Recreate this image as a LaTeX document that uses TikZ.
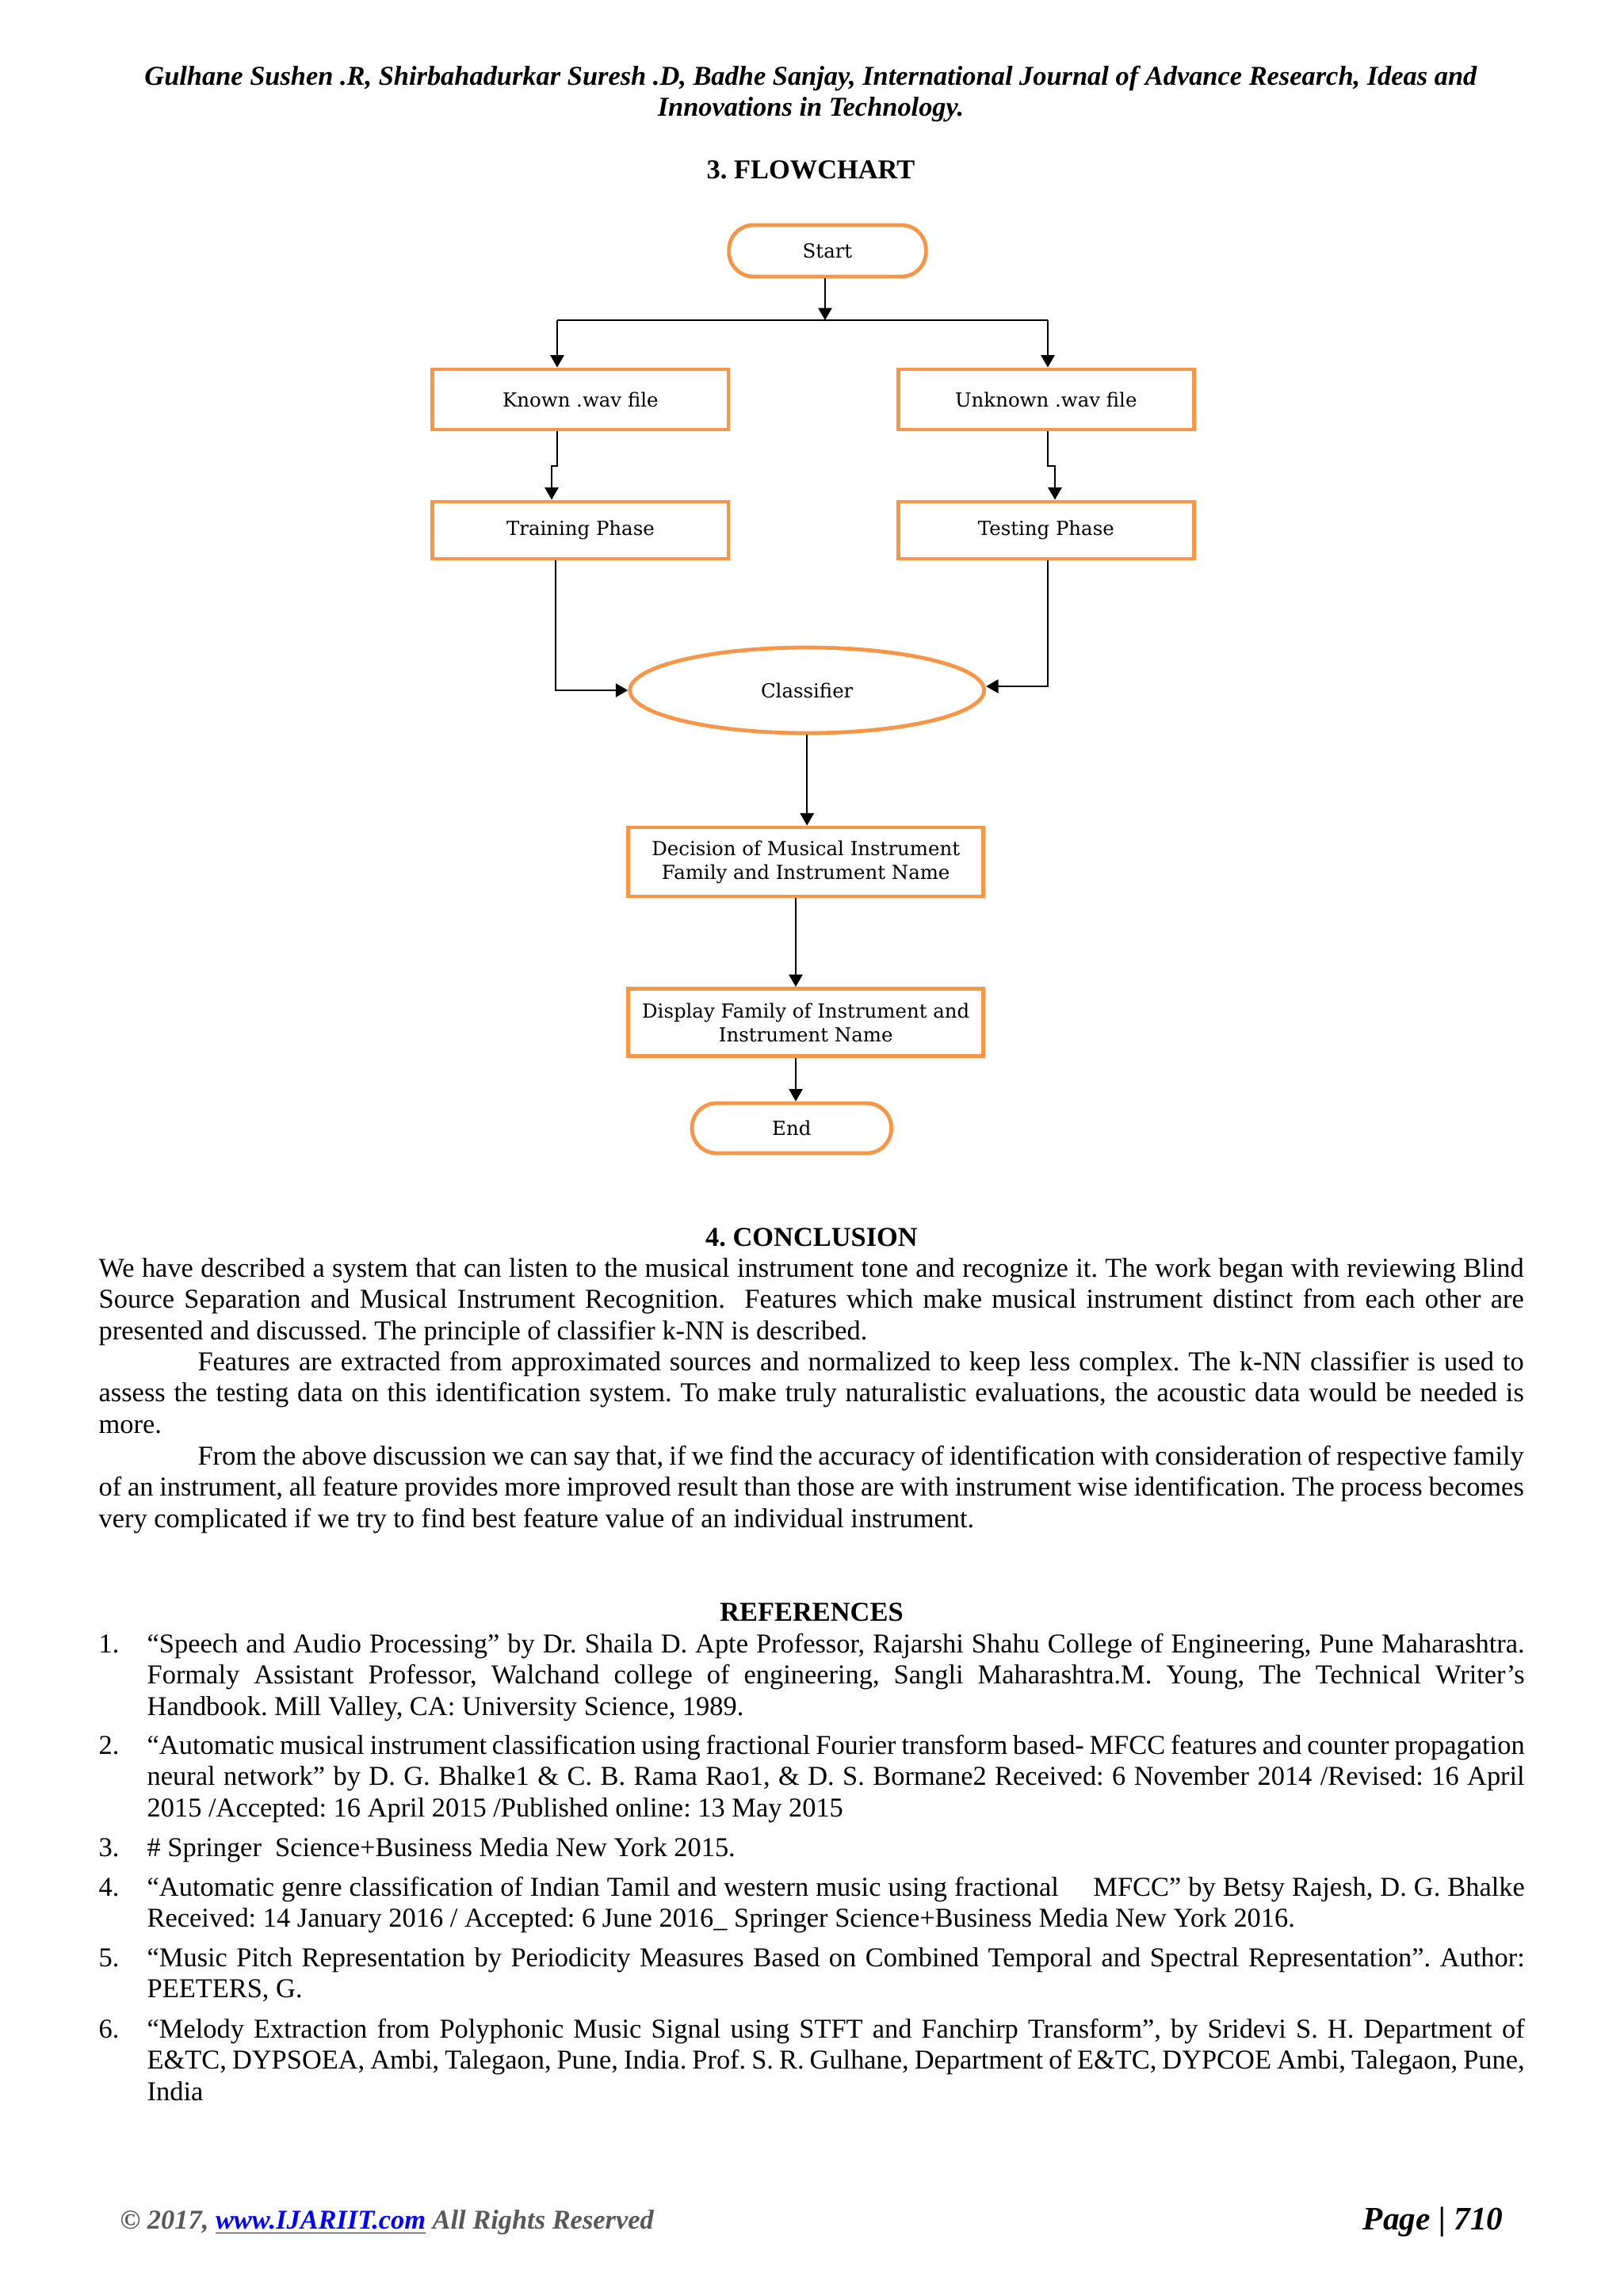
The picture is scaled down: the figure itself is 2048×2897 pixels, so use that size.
\documentclass[tikz,border=0pt]{standalone}
\usepackage{fontspec}
\setmainfont{Liberation Serif}
\newfontfamily\chartfont{DejaVu Serif}
\usetikzlibrary{arrows.meta,shapes.geometric}
\definecolor{boxc}{RGB}{247,150,70}
\definecolor{footgray}{RGB}{89,89,89}
\def\pxu{0.290664pt}
\frenchspacing
\tikzset{
  box/.style={draw=boxc, line width=1.4pt, rectangle, inner sep=0pt,
    font=\chartfont\fontsize{7.1}{8.7}\selectfont, align=center},
  term/.style={box, rounded corners=9pt},
  arr/.style={-{Triangle[length=4.5pt,width=5pt]}, line width=0.6pt, black},
  para/.style={anchor=base west, inner sep=0pt, text width=1798*\pxu, align=justify,
    font=\frenchspacing\fontsize{10}{11.48}\selectfont},
  refp/.style={anchor=base west, inner sep=0pt, text width=1738*\pxu, align=justify,
    font=\frenchspacing\fontsize{10}{11.48}\selectfont},
  refn/.style={anchor=base west, inner sep=0pt, font=\fontsize{10}{11.48}\selectfont},
  head/.style={anchor=base, inner sep=0pt, font=\bfseries\fontsize{10}{11.5}\selectfont},
  hdrs/.style={anchor=base, inner sep=0pt, font=\frenchspacing\bfseries\itshape\fontsize{10}{11.5}\selectfont},
}
\begin{document}
\begin{tikzpicture}[x=0.290664pt, y=-0.290664pt]
\fill[white] (0,0) rectangle (2048,2897);
\useasboundingbox (0,0) rectangle (2048,2897);

% header
\node[hdrs] (hdr1) at (1023,107)
  {Gulhane Sushen .R, Shirbahadurkar Suresh .D, Badhe Sanjay, International Journal of Advance Research, Ideas and};
\node[hdrs] (hdr2) at (1023,146.5) {Innovations in Technology.};
\node[head] (fc) at (1023,225) {3. FLOWCHART};

% flowchart
\node[term, minimum width=248.5*\pxu, minimum height=65*\pxu] (start) at (1044,316.5) {Start};
\node[box, minimum width=373*\pxu, minimum height=76*\pxu] (known) at (732.4,504) {Known .wav file};
\node[box, minimum width=373*\pxu, minimum height=76*\pxu] (unknown) at (1319.8,504) {Unknown .wav file};
\node[box, minimum width=373*\pxu, minimum height=72*\pxu] (train) at (732.4,669) {\raisebox{-1pt}{Training Phase}};
\node[box, minimum width=373*\pxu, minimum height=72*\pxu] (test) at (1319.8,669) {\raisebox{-1pt}{Testing Phase}};
\node[box, ellipse, minimum width=447*\pxu, minimum height=108*\pxu] (clf) at (1018.2,871) {\raisebox{-0.6pt}{Classifier}};
\node[box, minimum width=448*\pxu, minimum height=87*\pxu] (dec) at (1016.7,1087.5) {Decision of Musical Instrument\\Family and Instrument Name};
\node[box, minimum width=448*\pxu, minimum height=85*\pxu] (disp) at (1016.7,1290) {Display Family of Instrument and\\Instrument Name};
\node[term, minimum width=251.5*\pxu, minimum height=63*\pxu] (end) at (998.8,1423.5) {End};

\coordinate (j) at (1041,404);
\coordinate (bl) at (703,404);
\coordinate (br) at (1322,404);
\draw[arr] (start.south -| j) -- (j);
\draw[line width=0.7pt] (bl) -- (br);
\draw[arr] (bl) -- (bl |- known.north);
\draw[arr] (br) -- (br |- unknown.north);
\coordinate (k1) at (703,588);
\coordinate (k2) at (696,588);
\draw[arr] (known.south -| k1) -- (k1) -- (k2) -- (k2 |- train.north);
\coordinate (u1) at (1322,588);
\coordinate (u2) at (1331,588);
\draw[arr] (unknown.south -| u1) -- (u1) -- (u2) -- (u2 |- test.north);
\coordinate (t1) at (701,871);
\draw[arr] (train.south -| t1) -- (t1) -- (clf.west);
\coordinate (s1) at (1322,866);
\draw[arr] (test.south -| s1) -- (s1) -- (clf.east |- s1);
\draw[arr] (clf.south) -- (clf.south |- dec.north);
\coordinate (d1) at (1004,1200);
\draw[arr] (dec.south -| d1) -- (d1 |- disp.north);
\draw[arr] (disp.south -| d1) -- (d1 |- end.north);

% conclusion
\node[head] (conc) at (1024,1572) {4. CONCLUSION};
\node[para] (p1) at (124,1611) {We have described a system that can listen to the musical instrument tone and recognize it. The work began with reviewing Blind\linebreak
Source Separation and Musical Instrument Recognition.\ \ Features which make musical instrument distinct from each other are\linebreak
presented and discussed. The principle of classifier k-NN is described.};
\node[para] (p2) at (124,1729) {\hspace*{36.3pt}Features are extracted from approximated sources and normalized to keep less complex. The k-NN classifier is used to\linebreak
assess the testing data on this identification system. To make truly naturalistic evaluations, the acoustic data would be needed is\linebreak
more.};
\node[para] (p3) at (124,1848) {\hspace*{36.3pt}From the above discussion we can say that, if we find the accuracy of identification with consideration of respective family\linebreak
of an instrument, all feature provides more improved result than those are with instrument wise identification. The process becomes\linebreak
very complicated if we try to find best feature value of an individual instrument.};

% references
\node[head] (refs) at (1024,2045) {REFERENCES};
\node[refn] (n1) at (124,2085) {1.};
\node[refp] (r1) at (185,2085) {“Speech and Audio Processing” by Dr. Shaila D. Apte Professor, Rajarshi Shahu College of Engineering, Pune Maharashtra.\linebreak
Formaly Assistant Professor, Walchand college of engineering, Sangli Maharashtra.M. Young, The Technical Writer’s\linebreak
Handbook. Mill Valley, CA: University Science, 1989.};
\node[refn] (n2) at (124,2213) {2.};
\node[refp] (r2) at (185,2213) {“Automatic musical instrument classification using fractional Fourier transform based\textbf{-} MFCC features and counter propagation\linebreak
neural network” by D. G. Bhalke1 \& C. B. Rama Rao1, \& D. S. Bormane2 Received: 6 November 2014 /Revised: 16 April\linebreak
2015 /Accepted: 16 April 2015 /Published online: 13 May 2015};
\node[refn] (n3) at (124,2342) {3.};
\node[refp] (r3) at (185,2342) {\# Springer\ \ Science+Business Media New York 2015.};
\node[refn] (n4) at (124,2392) {4.};
\node[refp] (r4) at (185,2392) {“Automatic genre classification of Indian Tamil and western music using fractional\hspace{10pt} MFCC” by Betsy Rajesh, D. G. Bhalke\linebreak
Received: 14 January 2016 / Accepted: 6 June 2016\_ Springer Science+Business Media New York 2016.};
\node[refn] (n5) at (124,2481) {5.};
\node[refp] (r5) at (185,2481) {“Music Pitch Representation by Periodicity Measures Based on Combined Temporal and Spectral Representation”. Author:\linebreak
PEETERS, G.};
\node[refn] (n6) at (124,2571) {6.};
\node[refp] (r6) at (185,2571) {“Melody Extraction from Polyphonic Music Signal using STFT and Fanchirp Transform”, by Sridevi S. H. Department of\linebreak
E\&TC, DYPSOEA, Ambi, Talegaon, Pune, India. Prof. S. R. Gulhane, Department of E\&TC, DYPCOE Ambi, Talegaon, Pune,\linebreak
India};

% footer
\node[anchor=base west, inner sep=0pt, font=\bfseries\itshape\fontsize{10}{11}\selectfont, text=footgray] (fl) at (151,2812)
  {© 2017, {\color{blue}\underline{www.IJARIIT.com}} All Rights Reserved};
\node[anchor=base east, inner sep=0pt, font=\bfseries\itshape\fontsize{12}{14}\selectfont] (fr) at (1897,2813) {Page | 710};
\end{tikzpicture}
\end{document}
